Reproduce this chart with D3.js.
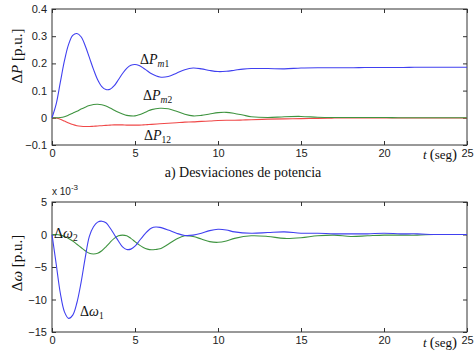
<!DOCTYPE html>
<html>
<head>
<meta charset="utf-8">
<script src="https://cdn.jsdelivr.net/npm/d3@7"></script>
<style>
  body { margin: 0; background: #fff; }
  svg { display: block; }
  .tick text { font-family: "Liberation Sans", Arial, sans-serif; font-size: 11px; fill: #222; }
  .tick line { stroke: #333; }
  .serif { font-family: "Liberation Serif", "Times New Roman", serif; fill: #111; }
</style>
</head>
<body>
<div id="wrapper"></div>
<script>
/* top panel: power deviations (p.u.) */
const timeP = [0,0.25,0.5,0.75,1,1.25,1.5,1.75,2,2.25,2.5,2.75,3,3.25,3.5,3.75,4,4.25,4.5,4.75,5,5.25,5.5,5.75,6,6.5,7,7.5,8,8.5,9,9.5,10,10.5,11,11.5,12,13,14,15,16,17,18,19,20,21,22,23,24,25];
const pm1 = [0,0.05,0.13,0.21,0.27,0.303,0.31,0.298,0.265,0.222,0.178,0.14,0.115,0.104,0.105,0.118,0.14,0.163,0.182,0.193,0.196,0.192,0.183,0.172,0.162,0.15,0.152,0.164,0.177,0.183,0.18,0.174,0.17,0.171,0.175,0.179,0.181,0.181,0.18,0.183,0.184,0.184,0.184,0.185,0.185,0.185,0.186,0.186,0.186,0.186];
const pm2 = [0,0,0.001,0.004,0.01,0.017,0.024,0.032,0.039,0.045,0.049,0.05,0.048,0.043,0.036,0.028,0.02,0.014,0.009,0.007,0.007,0.011,0.017,0.024,0.03,0.035,0.033,0.024,0.013,0.007,0.009,0.014,0.019,0.02,0.016,0.01,0.004,0.001,0.004,0.005,0.002,0.001,0.001,0.001,0.001,0,0,0,0,0];
const p12 = [0,-0.001,-0.005,-0.012,-0.019,-0.025,-0.029,-0.031,-0.032,-0.032,-0.031,-0.03,-0.029,-0.028,-0.027,-0.026,-0.026,-0.026,-0.027,-0.027,-0.027,-0.027,-0.026,-0.025,-0.024,-0.022,-0.02,-0.018,-0.016,-0.015,-0.013,-0.012,-0.01,-0.009,-0.009,-0.008,-0.007,-0.005,-0.004,-0.003,-0.002,-0.001,-0.001,-0.001,-0.001,-0.001,-0.001,-0.001,-0.001,-0.001];

/* bottom panel: speed deviations (x 10^-3 p.u.) */
const timeW = [0,0.25,0.5,0.75,1,1.25,1.5,1.75,2,2.25,2.5,2.75,3,3.25,3.5,3.75,4,4.25,4.5,4.75,5,5.25,5.5,5.75,6,6.25,6.5,7,7.5,8,8.5,9,9.5,10,10.5,11,12,13,14,15,16,17,18,19,20,21,22,23,24,25];
const w1 = [0,-4.5,-9.0,-11.9,-12.9,-12.4,-10.5,-7.4,-3.6,-0.3,1.2,1.9,2.05,1.8,1.0,0.0,-1.0,-1.9,-2.3,-2.25,-1.8,-1.0,-0.2,0.5,1.0,1.15,1.1,0.7,0.2,-0.15,-0.1,0.2,0.6,0.8,0.7,0.4,0.2,0.3,0.4,0.2,0.2,0.1,0.1,0.1,0.2,0.1,0.1,0,0,0];
const w2 = [0,0,-0.1,-0.3,-0.6,-1.0,-1.5,-2.0,-2.5,-2.9,-3.0,-2.9,-2.5,-1.9,-1.2,-0.6,-0.2,-0.1,-0.2,-0.6,-1.1,-1.6,-2.0,-2.25,-2.35,-2.3,-2.2,-1.5,-0.7,-0.2,-0.3,-0.7,-1.1,-1.2,-1.0,-0.6,-0.2,-0.3,-0.6,-0.5,-0.2,-0.1,-0.3,-0.2,-0.1,-0.1,-0.1,0,0,0];

const xTicks = [0,5,10,15,20,25];
const yTicksP = [-0.1,0,0.1,0.2,0.3,0.4];
const yTicksW = [-15,-10,-5,0,5];

const blue = "#4040f0";
const green = "#3f9440";
const red = "#f04848";

function drawChart() {
  let dimensions = {
    width: 474,
    height: 353,
    left: 52,
    plotWidth: 415,
    top1: 9, height1: 136,
    top2: 202, height2: 130,
  }

  const svg = d3.select("#wrapper")
    .append("svg")
    .attr("width", dimensions.width)
    .attr("height", dimensions.height);

  const xScale = d3.scaleLinear()
    .domain([0, 25])
    .range([0, dimensions.plotWidth]);

  // builds one boxed panel with inward ticks on all four sides
  function panel(top, h, yDomain, yTicks, fmt) {
    const g = svg.append("g")
      .attr("transform", `translate(${dimensions.left},${top})`);
    const yScale = d3.scaleLinear().domain(yDomain).range([h, 0]);

    g.append("g")
      .attr("transform", `translate(0,${h})`)
      .call(d3.axisBottom(xScale).tickValues(xTicks).tickSize(-4).tickPadding(4).tickFormat(d3.format("d")))
      .call(a => a.select(".domain").remove());
    g.append("g")
      .call(d3.axisTop(xScale).tickValues(xTicks).tickSize(-4).tickFormat(""))
      .call(a => a.select(".domain").remove());
    g.append("g")
      .call(d3.axisLeft(yScale).tickValues(yTicks).tickSize(-4).tickPadding(5).tickFormat(fmt))
      .call(a => a.select(".domain").remove());
    g.append("g")
      .attr("transform", `translate(${dimensions.plotWidth},0)`)
      .call(d3.axisRight(yScale).tickValues(yTicks).tickSize(-4).tickFormat(""))
      .call(a => a.select(".domain").remove());

    g.selectAll(".tick text").attr("font-family", null).attr("font-size", null);

    g.append("rect")
      .attr("width", dimensions.plotWidth)
      .attr("height", h)
      .attr("fill", "none")
      .attr("stroke", "#333")
      .attr("stroke-width", 1);
    return { g, yScale };
  }

  function drawLine(p, xs, ys, color) {
    const line = d3.line()
      .x((d, i) => xScale(xs[i]))
      .y(d => p.yScale(d))
      .curve(d3.curveCatmullRom);
    p.g.append("path")
      .datum(ys)
      .attr("d", line)
      .attr("fill", "none")
      .attr("stroke", color)
      .attr("stroke-width", 1.1);
  }

  const top = panel(dimensions.top1, dimensions.height1, [-0.1, 0.4], yTicksP, d => d === 0 ? "0" : d3.format(".1f")(d));
  drawLine(top, timeP, p12, red);
  drawLine(top, timeP, pm2, green);
  drawLine(top, timeP, pm1, blue);

  const bot = panel(dimensions.top2, dimensions.height2, [-15, 5], yTicksW, d3.format("d"));
  drawLine(bot, timeW, w2, green);
  drawLine(bot, timeW, w1, blue);

  // labels with a Greek delta, italic symbol and subscript
  function label(x, y, sym, subItalic, sub, size) {
    const t = svg.append("text").attr("class", "serif")
      .attr("x", x).attr("y", y)
      .style("font-size", size + "px");
    t.append("tspan").text("Δ");
    t.append("tspan").style("font-style", "italic").text(sym);
    const s = t.append("tspan").attr("dy", 3).style("font-size", (size * 0.68) + "px");
    if (subItalic) s.append("tspan").style("font-style", "italic").text(subItalic);
    s.append("tspan").text(sub);
  }
  label(140, 64, "P", "m", "1", 14);
  label(143, 100, "P", "m", "2", 14);
  label(144, 140, "P", "", "12", 14);
  label(54, 238, "ω", "", "2", 14);
  label(80, 316, "ω", "", "1", 14);

  // y axis titles
  const yl1 = svg.append("text").attr("class", "serif")
    .attr("transform", "translate(22,56) rotate(-90)")
    .attr("text-anchor", "middle")
    .style("font-size", "15px");
  yl1.append("tspan").text("Δ");
  yl1.append("tspan").style("font-style", "italic").text("P");
  yl1.append("tspan").text(" [p.u.]");

  const yl2 = svg.append("text").attr("class", "serif")
    .attr("transform", "translate(22,263) rotate(-90)")
    .attr("text-anchor", "middle")
    .style("font-size", "15px");
  yl2.append("tspan").text("Δ");
  yl2.append("tspan").style("font-style", "italic").text("ω");
  yl2.append("tspan").text(" [p.u.]");

  // x axis titles, ending just before the "25" tick label
  [159, 347].forEach(y => {
    const t = svg.append("text").attr("class", "serif")
      .attr("x", 423).attr("y", y)
      .style("font-size", "13px");
    t.append("tspan").style("font-style", "italic").text("t");
    t.append("tspan").attr("dx", 3).style("font-size", "15px").text("(");
    t.append("tspan").text("seg");
    t.append("tspan").style("font-size", "15px").text(")");
  });

  // exponent
  const ex = svg.append("text")
    .attr("x", 52).attr("y", 195)
    .style("font-family", "Liberation Sans, Arial, sans-serif")
    .style("font-size", "10px")
    .attr("fill", "#222");
  ex.append("tspan").text("x 10");
  ex.append("tspan").attr("dy", -5).style("font-size", "8px").text("-3");

  svg.append("text").attr("class", "serif")
    .attr("x", 243).attr("y", 177)
    .attr("text-anchor", "middle")
    .style("font-size", "14px")
    .text("a) Desviaciones de potencia");
}
drawChart();
</script>
</body>
</html>
